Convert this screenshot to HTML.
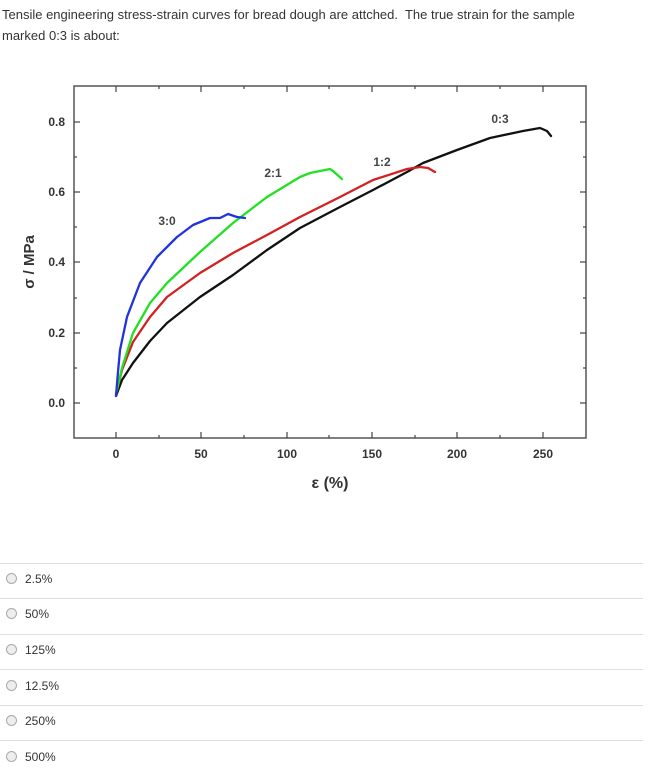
<!DOCTYPE html><html><head><style>
body{margin:0;background:#fff;width:655px;height:772px;overflow:hidden;font-family:"Liberation Sans",sans-serif;color:#333;position:relative}
.q{position:absolute;left:2px;top:4px;font-size:13px;line-height:21px;width:605px}
.sep{position:absolute;left:0;width:643px;height:1px;background:#ddd}
.opt{position:absolute;left:6px;font-size:12px;color:#333}
.opt i{display:inline-block;width:9px;height:9px;border:1px solid #aaa;border-radius:50%;background:#eee;vertical-align:-1px;margin-right:8px}
</style></head><body>
<div class="q">Tensile engineering stress-strain curves for bread dough are attched.&nbsp; The true strain for the sample marked 0:3 is about:</div>
<svg style="position:absolute;left:0;top:0" width="655" height="560">
<g font-family="Liberation Sans" font-weight="bold" fill="#333" stroke="none">
<rect x="74" y="86" width="512" height="352" fill="none" stroke="#555" stroke-width="1.5"/>
<g stroke="#444" stroke-width="1.2">
<line x1="116" y1="438" x2="116" y2="432"/><line x1="201" y1="438" x2="201" y2="432"/><line x1="287" y1="438" x2="287" y2="432"/><line x1="372" y1="438" x2="372" y2="432"/><line x1="457" y1="438" x2="457" y2="432"/><line x1="543" y1="438" x2="543" y2="432"/>
<line x1="159" y1="438" x2="159" y2="435"/><line x1="244" y1="438" x2="244" y2="435"/><line x1="329" y1="438" x2="329" y2="435"/><line x1="415" y1="438" x2="415" y2="435"/><line x1="500" y1="438" x2="500" y2="435"/>
<line x1="116" y1="86" x2="116" y2="92"/><line x1="201" y1="86" x2="201" y2="92"/><line x1="287" y1="86" x2="287" y2="92"/><line x1="372" y1="86" x2="372" y2="92"/><line x1="457" y1="86" x2="457" y2="92"/><line x1="543" y1="86" x2="543" y2="92"/>
<line x1="159" y1="86" x2="159" y2="89"/><line x1="244" y1="86" x2="244" y2="89"/><line x1="329" y1="86" x2="329" y2="89"/><line x1="415" y1="86" x2="415" y2="89"/><line x1="500" y1="86" x2="500" y2="89"/>
<line x1="74" y1="122" x2="80" y2="122"/><line x1="74" y1="192" x2="80" y2="192"/><line x1="74" y1="262" x2="80" y2="262"/><line x1="74" y1="333" x2="80" y2="333"/><line x1="74" y1="403" x2="80" y2="403"/>
<line x1="74" y1="157" x2="77" y2="157"/><line x1="74" y1="227" x2="77" y2="227"/><line x1="74" y1="298" x2="77" y2="298"/><line x1="74" y1="368" x2="77" y2="368"/>
<line x1="586" y1="122" x2="580" y2="122"/><line x1="586" y1="192" x2="580" y2="192"/><line x1="586" y1="262" x2="580" y2="262"/><line x1="586" y1="333" x2="580" y2="333"/><line x1="586" y1="403" x2="580" y2="403"/>
<line x1="586" y1="157" x2="583" y2="157"/><line x1="586" y1="227" x2="583" y2="227"/><line x1="586" y1="298" x2="583" y2="298"/><line x1="586" y1="368" x2="583" y2="368"/>
</g>
<g font-size="12" text-anchor="end"><text x="65" y="126">0.8</text><text x="65" y="196">0.6</text><text x="65" y="266">0.4</text><text x="65" y="337">0.2</text><text x="65" y="407">0.0</text></g>
<g font-size="12" text-anchor="middle"><text x="116" y="458">0</text><text x="201" y="458">50</text><text x="287" y="458">100</text><text x="372" y="458">150</text><text x="457" y="458">200</text><text x="543" y="458">250</text></g>
<text x="330" y="488" font-size="16" text-anchor="middle">ε (%)</text>
<text transform="translate(34,262) rotate(-90)" font-size="15" text-anchor="middle">σ / MPa</text>
<g font-size="12" fill="#444" text-anchor="middle"><text x="167" y="225">3:0</text><text x="273" y="177">2:1</text><text x="382" y="166">1:2</text><text x="500" y="123">0:3</text></g>
</g>
<g fill="none" stroke-width="2.3" stroke-linejoin="round" stroke-linecap="round">
<polyline stroke="#111" points="116,396 122,380 133,363 150,341 167,323 200,297 233,275 267,250 300,228 340,207 373,190 407,172 423,163 457,150 490,138 523,131 540,128 547,131 551,136"/>
<polyline stroke="#d42020" points="116,394 122,370 133,342 150,317 167,297 200,273 233,253 267,235 300,217 340,197 373,180 407,169 420,167 428,168 435,172"/>
<polyline stroke="#22e022" points="116,394 122,368 133,333 150,303 167,283 200,252 233,223 267,197 300,177 310,173 330,169 333,171 342,179"/>
<polyline stroke="#2233dd" points="116,396 118,372 120,350 127,317 140,283 157,257 177,237 193,225 210,218 220,218 228,214 237,217 245,218"/>
</g>
</svg>
<div class="sep" style="top:563px"></div>
<div class="sep" style="top:598px"></div>
<div class="sep" style="top:634px"></div>
<div class="sep" style="top:669px"></div>
<div class="sep" style="top:705px"></div>
<div class="sep" style="top:740px"></div>
<div class="opt" style="top:572px"><i></i>2.5%</div>
<div class="opt" style="top:607px"><i></i>50%</div>
<div class="opt" style="top:643px"><i></i>125%</div>
<div class="opt" style="top:679px"><i></i>12.5%</div>
<div class="opt" style="top:714px"><i></i>250%</div>
<div class="opt" style="top:750px"><i></i>500%</div>
</body></html>
